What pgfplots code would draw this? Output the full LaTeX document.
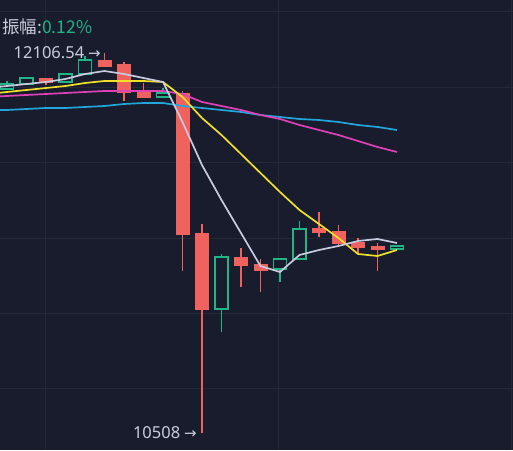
\documentclass[border=0pt]{standalone}
\usepackage{fontspec}
\usepackage{pgfplots}
\usepackage{pgfplotstable}
\pgfplotsset{compat=1.18}
\setmainfont{Noto Sans}
\newfontfamily\cjk{Noto Sans CJK SC}
\newfontfamily\dejavu{DejaVu Sans}
\definecolor{bgcol}{HTML}{191C2D}
\definecolor{gridcol}{HTML}{242838}
\definecolor{upgreen}{HTML}{20B486}
\definecolor{downred}{HTML}{EF625E}
\definecolor{txt}{HTML}{C8CCDA}
\definecolor{ma1}{HTML}{C8CBE0}
\definecolor{ma2}{HTML}{F0E02A}
\definecolor{ma3}{HTML}{DE42B6}
\definecolor{ma4}{HTML}{22A6DC}

\pgfplotstableread{
i open high low close
0 11955.1 11988.8 11955.1 11976.1
1 11976.1 12001.4 11976.1 12001.4
2 12001.4 12001.4 11971.9 11984.6
3 11984.6 12018.2 11984.6 12018.2
4 12018.2 12093.9 12018.2 12077.1
5 12077.1 12106.54 12051.9 12051.9
6 12060.3 12068.7 11904.6 11942.5
7 11946.7 11980.3 11921.5 11921.5
8 11921.5 11959.3 11921.5 11938.3
9 11938.3 11946.7 11189.5 11345.1
10 11349.3 11387.2 10508 11029.6
11 11029.6 11261.0 10932.9 11248.4
12 11248.4 11286.2 11122.2 11214.7
13 11218.9 11240.0 11101.1 11193.7
14 11197.9 11240.0 11143.2 11240.0
15 11240.0 11399.8 11240.0 11366.2
16 11370.4 11437.7 11332.5 11353.5
17 11357.8 11383.0 11298.9 11307.3
18 11311.5 11328.3 11261.0 11290.4
19 11294.7 11307.3 11189.5 11282.0
20 11282.0 11294.7 11282.0 11294.7
}\candles

\pgfplotstableread{
i white yellow magenta blue
-1 11959.3 11934.1 11921.5 11866.8
0 11967.7 11942.5 11925.7 11866.8
1 11976.1 11950.9 11929.9 11871.0
2 11984.6 11959.3 11934.1 11875.2
3 11997.2 11967.7 11938.3 11875.2
4 12018.2 11980.3 11942.5 11879.4
5 12030.8 11988.8 11946.7 11883.6
6 12018.2 11988.8 11946.7 11892.0
7 12001.4 11988.8 11946.7 11896.2
8 11984.6 11984.6 11946.7 11896.2
9 11816.3 11921.5 11934.1 11883.6
10 11635.4 11833.1 11900.4 11875.2
11 11488.2 11761.6 11883.6 11866.8
12 11349.3 11681.7 11866.8 11858.4
13 11210.5 11601.7 11845.7 11845.7
14 11185.3 11521.8 11828.9 11837.3
15 11256.8 11446.1 11803.7 11828.9
16 11277.8 11387.2 11782.6 11824.7
17 11294.7 11328.3 11761.6 11816.3
18 11315.7 11261.0 11736.4 11803.7
19 11324.1 11252.6 11711.1 11795.3
20 11307.3 11277.8 11690.1 11782.6
}\mas

\begin{document}
\begin{tikzpicture}
\begin{axis}[
  at={(0,0)}, anchor=south west,
  scale only axis, width=513pt, height=450pt,
  xmin=-0.359, xmax=25.95, ymin=10436.5, ymax=12329.5,
  axis background/.style={fill=bgcol},
  axis line style={draw=none},
  xtick={1.95,13.9,25.85},
  ytick={10697.3,11012.8,11328.3,11648.0,11963.5,12283.2},
  xticklabels={}, yticklabels={},
  major tick length=0pt,
  grid=major,
  major grid style={gridcol, line width=1pt},
  clip=true,
]
\pgfplotsforeachungrouped \r in {0,...,20}{%
  \pgfplotstablegetelem{\r}{i}\of\candles \let\ci\pgfplotsretval
  \pgfplotstablegetelem{\r}{open}\of\candles \let\co\pgfplotsretval
  \pgfplotstablegetelem{\r}{high}\of\candles \let\ch\pgfplotsretval
  \pgfplotstablegetelem{\r}{low}\of\candles \let\cl\pgfplotsretval
  \pgfplotstablegetelem{\r}{close}\of\candles \let\cc\pgfplotsretval
  \pgfmathsetmacro\xl{\ci-0.325}%
  \pgfmathsetmacro\xr{\ci+0.325}%
  \pgfmathtruncatemacro\up{\cc>\co ? 1 : 0}%
  \ifnum\up=1
    \edef\tmp{\noexpand\draw[upgreen, line width=1.5pt] (axis cs:\ci,\ch) -- (axis cs:\ci,\cl);
      \noexpand\draw[upgreen, fill=bgcol, line width=1.5pt] (axis cs:\xl,\co) rectangle (axis cs:\xr,\cc);}%
  \else
    \edef\tmp{\noexpand\draw[downred, line width=1.5pt] (axis cs:\ci,\ch) -- (axis cs:\ci,\cl);
      \noexpand\draw[downred, fill=downred, line width=0.6pt] (axis cs:\xl,\co) rectangle (axis cs:\xr,\cc);}%
  \fi
  \tmp
}
\addplot[ma4, line width=1.7pt] table[x=i, y=blue] {\mas};
\addplot[ma3, line width=1.7pt] table[x=i, y=magenta] {\mas};
\addplot[ma2, line width=1.7pt] table[x=i, y=yellow] {\mas};
\addplot[ma1, line width=1.7pt] table[x=i, y=white] {\mas};
\node[anchor=east, inner sep=0pt, text=txt, xshift=-3.5pt] at (axis cs:5,12106.54)
  {\fontsize{16.5}{19}\selectfont 12106.54\hspace{4pt}{\dejavu\fontsize{15}{17}\selectfont →}};
\node[anchor=east, inner sep=0pt, text=txt, xshift=-5pt] at (axis cs:10,10508)
  {\fontsize{16.5}{19}\selectfont 10508\hspace{4pt}{\dejavu\fontsize{15}{17}\selectfont →}};
\end{axis}
\node[anchor=west, inner sep=0pt] at (2pt,423pt)
  {\cjk\fontsize{17.5}{20}\selectfont\color{txt}振幅:\color{upgreen}0.12\%};
\pgfresetboundingbox
\useasboundingbox (0,0) rectangle (513pt,450pt);
\end{tikzpicture}
\end{document}
